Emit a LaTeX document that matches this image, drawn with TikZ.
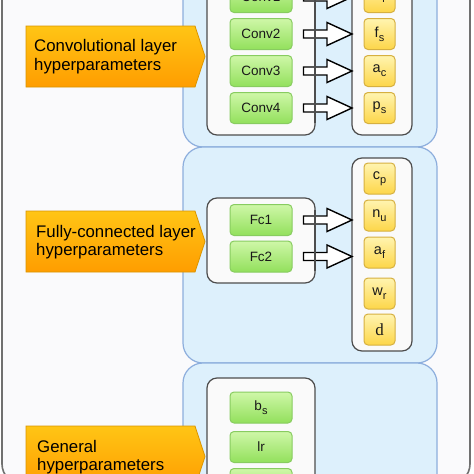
\documentclass[tikz,border=0pt]{standalone}
\usepackage{fontspec}
\setmainfont{Liberation Sans}
\newfontfamily\serifface{Liberation Serif}
\usetikzlibrary{calc}

\definecolor{panelfill}{HTML}{DDF0FC}
\definecolor{paneldraw}{HTML}{8DAEDD}
\definecolor{grpdraw}{HTML}{4D4D4D}
\definecolor{grpfill}{HTML}{FAFAFA}
\definecolor{greentop}{HTML}{CFF7A8}
\definecolor{greenbot}{HTML}{92E05C}
\definecolor{greendraw}{HTML}{88CC60}
\definecolor{yeltop}{HTML}{FFF4B0}
\definecolor{yelbot}{HTML}{FDD649}
\definecolor{yeldraw}{HTML}{D6B040}
\definecolor{orgtop}{HTML}{FFC515}
\definecolor{orgbot}{HTML}{FF9D00}
\definecolor{orgdraw}{HTML}{D99400}
\definecolor{framedraw}{HTML}{707070}
\definecolor{framefill}{HTML}{FAFAFC}

\newcommand\sub[1]{\raisebox{-0.5ex}{\fontsize{11}{11}\selectfont #1}}

% orange tag: top y, bottom y
\newcommand\tagshape[2]{\draw[tagfill] (26,#1) -- (195,#1) -- (205,{(#1+#2)/2}) -- (195,#2) -- (26,#2) -- cycle;}

% block arrow from a green node to the value column
\newcommand\blockarrow[2]{%
  \draw[fatarrow] let \p1=([xshift=11pt]#1.east), \p2=(#1.east -| #2.west) in
    (\x1,\y1+4pt) -- (\x2-25pt,\y1+4pt) -- (\x2-25pt,\y1+11.5pt) -- (\x2,\y1)
    -- (\x2-25pt,\y1-11.5pt) -- (\x2-25pt,\y1-4pt) -- (\x1,\y1-4pt) -- cycle;}

\tikzset{
  panel/.style={draw=paneldraw, fill=panelfill, line width=1.2pt, rounded corners=20pt,
    minimum width=254pt, inner sep=0pt, outer sep=0pt},
  grp/.style={draw=grpdraw, fill=grpfill, line width=1.2pt, rounded corners=10pt,
    inner sep=0pt, outer sep=0pt},
  grpline/.style={draw=grpdraw, line width=1.2pt},
  hp/.style={draw=greendraw, top color=greentop, bottom color=greenbot, line width=1pt,
    rounded corners=4pt, minimum width=62pt, minimum height=31pt, inner sep=0pt,
    font=\fontsize{13.5}{15}\selectfont, text=black!90},
  val/.style={draw=yeldraw, top color=yeltop, bottom color=yelbot, line width=1pt,
    rounded corners=4pt, minimum width=31pt, minimum height=31pt, inner sep=0pt,
    font=\fontsize{14.5}{15}\selectfont, text=black!90},
  tagfill/.style={draw=orgdraw, top color=orgtop, bottom color=orgbot, line width=0.8pt},
  tagtext/.style={anchor=west, align=left, inner sep=0pt,
    font=\fontsize{16.8}{18.5}\selectfont},
  fatarrow/.style={draw=black, fill=white, line width=1.4pt, line join=miter},
}

\begin{document}
\begin{tikzpicture}[x=1pt, y=-1pt]

  \fill[white] (0,0) rectangle (474,474);
  \draw[draw=framedraw, fill=framefill, line width=1.6pt, rounded corners=20pt] (2,-40) rectangle (470,484);

  %% panels
  \node[panel, minimum height=227pt] (convpanel) at (310,33.5) {};
  \node[panel, minimum height=216pt] (fcpanel) at (310,255) {};
  \node[panel, minimum height=237pt] (genpanel) at (310,481.5) {};

  %% white groups
  \node[grp, minimum width=108pt, minimum height=175pt] (convgrp) at (261,47.5) {};
  \node[grp, minimum width=60pt, minimum height=175pt] (convvals) at (382,47.5) {};
  \node[grp, minimum width=108pt, minimum height=85pt] (fcgrp) at (261,240.5) {};
  \node[grp, minimum width=60pt, minimum height=193pt] (fcvals) at (382,254.5) {};
  \node[grp, minimum width=108pt, minimum height=222pt] (gengrp) at (261,489) {};

  %% convolutional layers
  \node[hp] (conv1) at (261,-3) {Conv1};
  \node[hp] (conv2) at (261,34) {Conv2};
  \node[hp] (conv3) at (261,71) {Conv3};
  \node[hp] (conv4) at (261,108) {Conv4};

  \node[val] (nf) at (379.5,-3) {n\sub{f}};
  \node[val] (fs) at (379.5,34) {f\sub{s}};
  \node[val] (ac) at (379.5,71) {a\sub{c}};
  \node[val] (ps) at (379.5,108) {p\sub{s}};

  %% fully-connected layers
  \node[hp] (fc1) at (261,220) {Fc1};
  \node[hp] (fc2) at (261,256.5) {Fc2};

  \node[val] (cp) at (379.5,178.5) {c\sub{p}};
  \node[val] (nu) at (379.5,215.5) {n\sub{u}};
  \node[val] (af) at (379.5,252.5) {a\sub{f}};
  \node[val] (wr) at (379.5,293.5) {w\sub{r}};
  \node[val] (dd) at (379.5,329.5) {{\serifface\fontsize{17}{17}\selectfont d}};

  %% general
  \node[hp] (bs) at (261,407.5) {b\sub{s}};
  \node[hp] (lr) at (261,447) {lr};
  \node[hp] (gen3) at (261,484) {};

  %% arrows
  \blockarrow{conv1}{convvals}
  \blockarrow{conv2}{convvals}
  \blockarrow{conv3}{convvals}
  \blockarrow{conv4}{convvals}
  \blockarrow{fc1}{fcvals}
  \blockarrow{fc2}{fcvals}
  \draw[grpline] ([yshift=-12pt]convgrp.north east) -- ([yshift=12pt]convgrp.south east);
  \draw[grpline] ([yshift=-12pt]fcgrp.north east) -- ([yshift=12pt]fcgrp.south east);

  %% orange tags
  \tagshape{26}{87}
  \node[tagtext] (convtag) at (34,56.5) {Convolutional layer\\hyperparameters};
  \tagshape{211}{272}
  \node[tagtext] (fctag) at (36,242) {Fully-connected layer\\hyperparameters};
  \tagshape{426}{487}
  \node[tagtext] (gentag) at (37,457) {General\\hyperparameters};

  \pgfresetboundingbox
  \path[use as bounding box] (0,0) rectangle (474,474);
\end{tikzpicture}
\end{document}
